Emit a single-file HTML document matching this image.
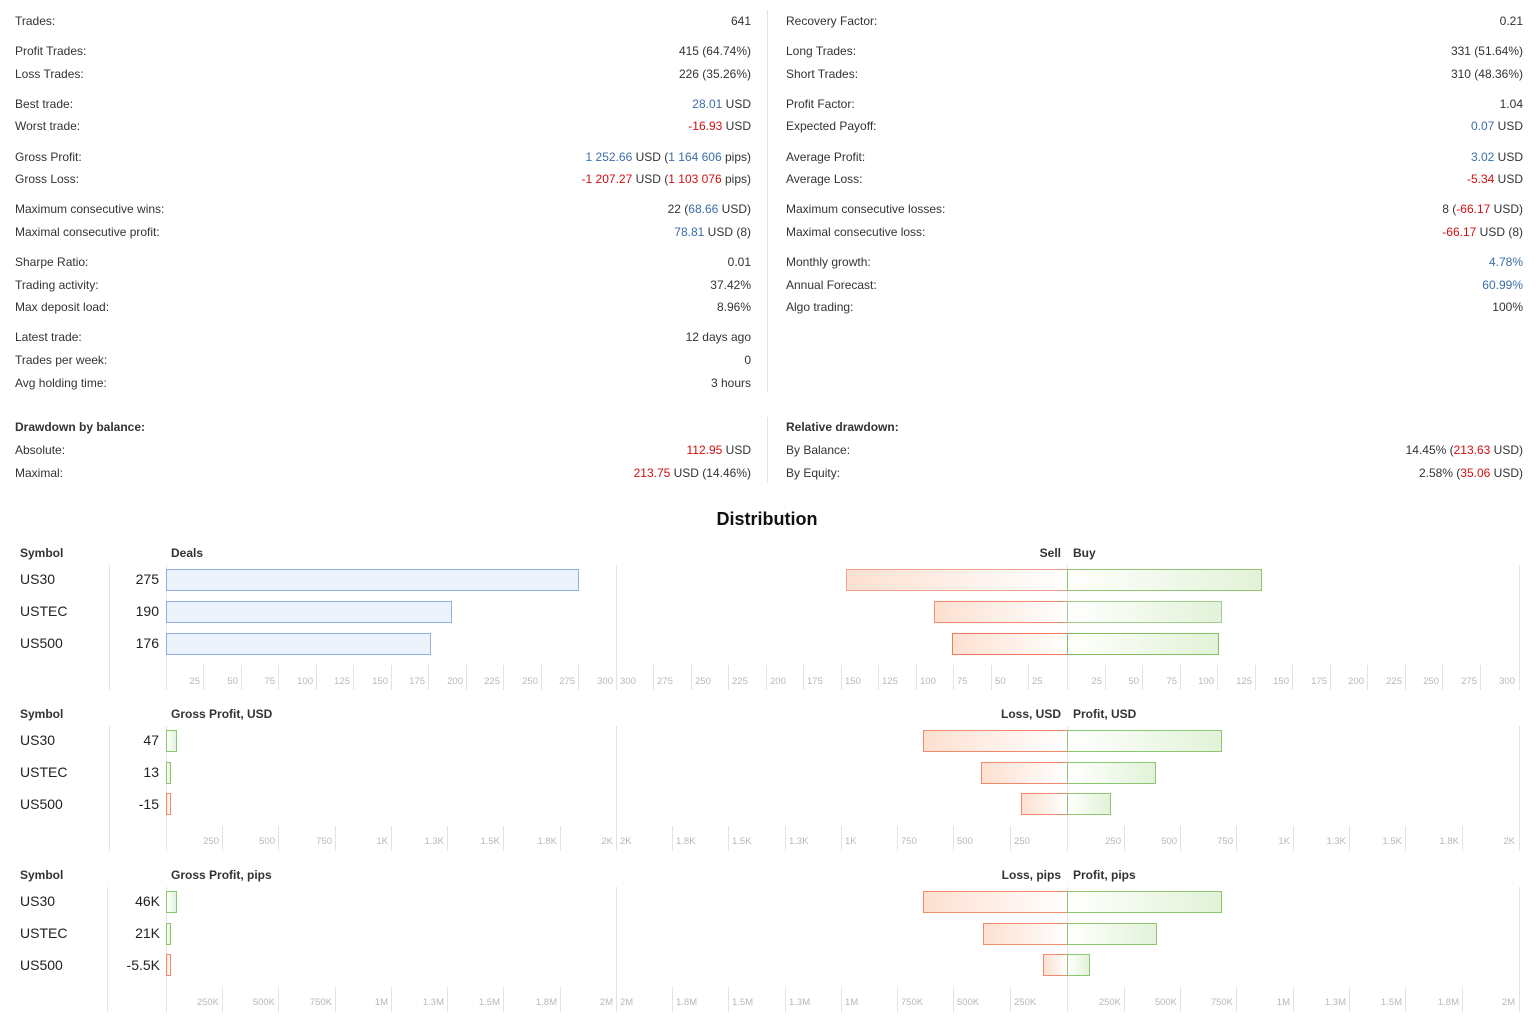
<!DOCTYPE html>
<html><head><meta charset="utf-8"><style>
body{margin:0;background:#fff;width:1536px;height:1020px;overflow:hidden}
svg{font-family:"Liberation Sans",sans-serif}
.l{font-size:12px;fill:#333}
.r{font-size:12px;fill:#333;text-anchor:end}
.b{fill:#3a6ea8}.d{fill:#d01010}
.h{font-size:12px;font-weight:bold;fill:#333}
.sy{font-size:14px;fill:#222}
.t{font-size:9.5px;fill:#b8b8b8}
.te{font-size:9.5px;fill:#b8b8b8;text-anchor:end}
.g{stroke:#e3e3e3;stroke-width:1}
</style></head><body>
<svg width="1536" height="1020" viewBox="0 0 1536 1020">
<defs>
<linearGradient id="gs" x1="0" x2="1"><stop offset="0" stop-color="#fde0d0"/><stop offset="1" stop-color="#fff"/></linearGradient>
<linearGradient id="gb" x1="0" x2="1"><stop offset="0" stop-color="#fff"/><stop offset="1" stop-color="#e2f2d8"/></linearGradient>
</defs>
<line x1="767.5" y1="10" x2="767.5" y2="392" class="g"/>
<line x1="767.5" y1="417" x2="767.5" y2="483" class="g"/>
<g>
<text x="15" y="25" class="l">Trades:</text><text x="751" y="25" class="r">641</text>
<text x="15" y="55" class="l">Profit Trades:</text><text x="751" y="55" class="r">415 (64.74%)</text>
<text x="15" y="78" class="l">Loss Trades:</text><text x="751" y="78" class="r">226 (35.26%)</text>
<text x="15" y="108" class="l">Best trade:</text><text x="751" y="108" class="r"><tspan class="b">28.01</tspan> USD</text>
<text x="15" y="130" class="l">Worst trade:</text><text x="751" y="130" class="r"><tspan class="d">-16.93</tspan> USD</text>
<text x="15" y="161" class="l">Gross Profit:</text><text x="751" y="161" class="r"><tspan class="b">1 252.66</tspan> USD (<tspan class="b">1 164 606</tspan> pips)</text>
<text x="15" y="183" class="l">Gross Loss:</text><text x="751" y="183" class="r"><tspan class="d">-1 207.27</tspan> USD (<tspan class="d">1 103 076</tspan> pips)</text>
<text x="15" y="213" class="l">Maximum consecutive wins:</text><text x="751" y="213" class="r">22 (<tspan class="b">68.66</tspan> USD)</text>
<text x="15" y="236" class="l">Maximal consecutive profit:</text><text x="751" y="236" class="r"><tspan class="b">78.81</tspan> USD (8)</text>
<text x="15" y="266" class="l">Sharpe Ratio:</text><text x="751" y="266" class="r">0.01</text>
<text x="15" y="289" class="l">Trading activity:</text><text x="751" y="289" class="r">37.42%</text>
<text x="15" y="311" class="l">Max deposit load:</text><text x="751" y="311" class="r">8.96%</text>
<text x="15" y="341" class="l">Latest trade:</text><text x="751" y="341" class="r">12 days ago</text>
<text x="15" y="364" class="l">Trades per week:</text><text x="751" y="364" class="r">0</text>
<text x="15" y="387" class="l">Avg holding time:</text><text x="751" y="387" class="r">3 hours</text>
<text x="15" y="431" class="h">Drawdown by balance:</text>
<text x="15" y="454" class="l">Absolute:</text><text x="751" y="454" class="r"><tspan class="d">112.95</tspan> USD</text>
<text x="15" y="477" class="l">Maximal:</text><text x="751" y="477" class="r"><tspan class="d">213.75</tspan> USD (14.46%)</text>

<text x="786" y="25" class="l">Recovery Factor:</text><text x="1523" y="25" class="r">0.21</text>
<text x="786" y="55" class="l">Long Trades:</text><text x="1523" y="55" class="r">331 (51.64%)</text>
<text x="786" y="78" class="l">Short Trades:</text><text x="1523" y="78" class="r">310 (48.36%)</text>
<text x="786" y="108" class="l">Profit Factor:</text><text x="1523" y="108" class="r">1.04</text>
<text x="786" y="130" class="l">Expected Payoff:</text><text x="1523" y="130" class="r"><tspan class="b">0.07</tspan> USD</text>
<text x="786" y="161" class="l">Average Profit:</text><text x="1523" y="161" class="r"><tspan class="b">3.02</tspan> USD</text>
<text x="786" y="183" class="l">Average Loss:</text><text x="1523" y="183" class="r"><tspan class="d">-5.34</tspan> USD</text>
<text x="786" y="213" class="l">Maximum consecutive losses:</text><text x="1523" y="213" class="r">8 (<tspan class="d">-66.17</tspan> USD)</text>
<text x="786" y="236" class="l">Maximal consecutive loss:</text><text x="1523" y="236" class="r"><tspan class="d">-66.17</tspan> USD (8)</text>
<text x="786" y="266" class="l">Monthly growth:</text><text x="1523" y="266" class="r b">4.78%</text>
<text x="786" y="289" class="l">Annual Forecast:</text><text x="1523" y="289" class="r b">60.99%</text>
<text x="786" y="311" class="l">Algo trading:</text><text x="1523" y="311" class="r">100%</text>
<text x="786" y="431" class="h">Relative drawdown:</text>
<text x="786" y="454" class="l">By Balance:</text><text x="1523" y="454" class="r">14.45% (<tspan class="d">213.63</tspan> USD)</text>
<text x="786" y="477" class="l">By Equity:</text><text x="1523" y="477" class="r">2.58% (<tspan class="d">35.06</tspan> USD)</text>
</g>
<text x="767" y="525" text-anchor="middle" style="font-size:18px;font-weight:bold;fill:#111">Distribution</text>

<!-- Section 1 -->
<g>
<text x="20" y="557" class="h">Symbol</text><text x="171" y="557" class="h">Deals</text>
<text x="1061" y="557" class="h" text-anchor="end">Sell</text><text x="1073" y="557" class="h">Buy</text>
<line x1="109.5" y1="565" x2="109.5" y2="690" class="g"/>
<line x1="166.5" y1="565" x2="166.5" y2="690" class="g"/>
<line x1="616.5" y1="565" x2="616.5" y2="690" class="g"/>
<line x1="1067.5" y1="565" x2="1067.5" y2="690" class="g"/>
<line x1="1519.5" y1="565" x2="1519.5" y2="690" class="g"/>
<text x="20" y="584" class="sy">US30</text><text x="159" y="584" class="sy" text-anchor="end">275</text>
<text x="20" y="616" class="sy">USTEC</text><text x="159" y="616" class="sy" text-anchor="end">190</text>
<text x="20" y="648" class="sy">US500</text><text x="159" y="648" class="sy" text-anchor="end">176</text>
<rect x="166.5" y="569.5" width="412" height="21" fill="#ecf2fa" stroke="#8fb1dd"/>
<rect x="166.5" y="601.5" width="285" height="21" fill="#ecf2fa" stroke="#8fb1dd"/>
<rect x="166.5" y="633.5" width="264" height="21" fill="#ecf2fa" stroke="#8fb1dd"/>
<rect x="846.5" y="569.5" width="221" height="21" fill="url(#gs)" stroke="#f0a08a"/>
<rect x="1067.5" y="569.5" width="194" height="21" fill="url(#gb)" stroke="#8cc66e"/>
<rect x="934.5" y="601.5" width="133" height="21" fill="url(#gs)" stroke="#f08a6a"/>
<rect x="1067.5" y="601.5" width="154" height="21" fill="url(#gb)" stroke="#a0d088"/>
<rect x="952.5" y="633.5" width="115" height="21" fill="url(#gs)" stroke="#f07a5a"/>
<rect x="1067.5" y="633.5" width="151" height="21" fill="url(#gb)" stroke="#80c060"/>
<g class="g">
<line x1="203.5" y1="665" x2="203.5" y2="690"/><line x1="241.5" y1="665" x2="241.5" y2="690"/><line x1="278.5" y1="665" x2="278.5" y2="690"/><line x1="316.5" y1="665" x2="316.5" y2="690"/><line x1="353.5" y1="665" x2="353.5" y2="690"/><line x1="391.5" y1="665" x2="391.5" y2="690"/><line x1="428.5" y1="665" x2="428.5" y2="690"/><line x1="466.5" y1="665" x2="466.5" y2="690"/><line x1="503.5" y1="665" x2="503.5" y2="690"/><line x1="541.5" y1="665" x2="541.5" y2="690"/><line x1="578.5" y1="665" x2="578.5" y2="690"/>
<line x1="653.5" y1="665" x2="653.5" y2="690"/><line x1="691.5" y1="665" x2="691.5" y2="690"/><line x1="728.5" y1="665" x2="728.5" y2="690"/><line x1="766.5" y1="665" x2="766.5" y2="690"/><line x1="803.5" y1="665" x2="803.5" y2="690"/><line x1="841.5" y1="665" x2="841.5" y2="690"/><line x1="878.5" y1="665" x2="878.5" y2="690"/><line x1="916.5" y1="665" x2="916.5" y2="690"/><line x1="953.5" y1="665" x2="953.5" y2="690"/><line x1="991.5" y1="665" x2="991.5" y2="690"/><line x1="1028.5" y1="665" x2="1028.5" y2="690"/>
<line x1="1105.5" y1="665" x2="1105.5" y2="690"/><line x1="1142.5" y1="665" x2="1142.5" y2="690"/><line x1="1180.5" y1="665" x2="1180.5" y2="690"/><line x1="1217.5" y1="665" x2="1217.5" y2="690"/><line x1="1255.5" y1="665" x2="1255.5" y2="690"/><line x1="1292.5" y1="665" x2="1292.5" y2="690"/><line x1="1330.5" y1="665" x2="1330.5" y2="690"/><line x1="1367.5" y1="665" x2="1367.5" y2="690"/><line x1="1405.5" y1="665" x2="1405.5" y2="690"/><line x1="1442.5" y1="665" x2="1442.5" y2="690"/><line x1="1480.5" y1="665" x2="1480.5" y2="690"/>
</g>
<g>
<text x="200" y="684" class="te">25</text><text x="238" y="684" class="te">50</text><text x="275" y="684" class="te">75</text><text x="313" y="684" class="te">100</text><text x="350" y="684" class="te">125</text><text x="388" y="684" class="te">150</text><text x="425" y="684" class="te">175</text><text x="463" y="684" class="te">200</text><text x="500" y="684" class="te">225</text><text x="538" y="684" class="te">250</text><text x="575" y="684" class="te">275</text><text x="613" y="684" class="te">300</text>
<text x="620" y="684" class="t">300</text><text x="657" y="684" class="t">275</text><text x="695" y="684" class="t">250</text><text x="732" y="684" class="t">225</text><text x="770" y="684" class="t">200</text><text x="807" y="684" class="t">175</text><text x="845" y="684" class="t">150</text><text x="882" y="684" class="t">125</text><text x="920" y="684" class="t">100</text><text x="957" y="684" class="t">75</text><text x="995" y="684" class="t">50</text><text x="1032" y="684" class="t">25</text>
<text x="1102" y="684" class="te">25</text><text x="1139" y="684" class="te">50</text><text x="1177" y="684" class="te">75</text><text x="1214" y="684" class="te">100</text><text x="1252" y="684" class="te">125</text><text x="1289" y="684" class="te">150</text><text x="1327" y="684" class="te">175</text><text x="1364" y="684" class="te">200</text><text x="1402" y="684" class="te">225</text><text x="1439" y="684" class="te">250</text><text x="1477" y="684" class="te">275</text><text x="1515" y="684" class="te">300</text>
</g>
</g>

<!-- Section 2 -->
<g>
<text x="20" y="718" class="h">Symbol</text><text x="171" y="718" class="h">Gross Profit, USD</text>
<text x="1061" y="718" class="h" text-anchor="end">Loss, USD</text><text x="1073" y="718" class="h">Profit, USD</text>
<line x1="109.5" y1="726" x2="109.5" y2="851" class="g"/>
<line x1="166.5" y1="726" x2="166.5" y2="851" class="g"/>
<line x1="616.5" y1="726" x2="616.5" y2="851" class="g"/>
<line x1="1067.5" y1="726" x2="1067.5" y2="851" class="g"/>
<line x1="1519.5" y1="726" x2="1519.5" y2="851" class="g"/>
<text x="20" y="745" class="sy">US30</text><text x="159" y="745" class="sy" text-anchor="end">47</text>
<text x="20" y="777" class="sy">USTEC</text><text x="159" y="777" class="sy" text-anchor="end">13</text>
<text x="20" y="809" class="sy">US500</text><text x="159" y="809" class="sy" text-anchor="end">-15</text>
<rect x="166.5" y="730.5" width="10" height="21" fill="url(#gb)" stroke="#8cc66e"/>
<rect x="166.5" y="762.5" width="4" height="21" fill="url(#gb)" stroke="#8cc66e"/>
<rect x="166.5" y="793.5" width="4" height="21" fill="url(#gs)" stroke="#f08a6a"/>
<rect x="923.5" y="730.5" width="144" height="21" fill="url(#gs)" stroke="#f08a6a"/>
<rect x="1067.5" y="730.5" width="154" height="21" fill="url(#gb)" stroke="#8cc66e"/>
<rect x="981.5" y="762.5" width="86" height="21" fill="url(#gs)" stroke="#f08a6a"/>
<rect x="1067.5" y="762.5" width="88" height="21" fill="url(#gb)" stroke="#8cc66e"/>
<rect x="1021.5" y="793.5" width="46" height="21" fill="url(#gs)" stroke="#f08a6a"/>
<rect x="1067.5" y="793.5" width="43" height="21" fill="url(#gb)" stroke="#8cc66e"/>
<g class="g">
<line x1="222.5" y1="826" x2="222.5" y2="851"/><line x1="278.5" y1="826" x2="278.5" y2="851"/><line x1="335.5" y1="826" x2="335.5" y2="851"/><line x1="391.5" y1="826" x2="391.5" y2="851"/><line x1="447.5" y1="826" x2="447.5" y2="851"/><line x1="503.5" y1="826" x2="503.5" y2="851"/><line x1="560.5" y1="826" x2="560.5" y2="851"/>
<line x1="672.5" y1="826" x2="672.5" y2="851"/><line x1="728.5" y1="826" x2="728.5" y2="851"/><line x1="785.5" y1="826" x2="785.5" y2="851"/><line x1="841.5" y1="826" x2="841.5" y2="851"/><line x1="897.5" y1="826" x2="897.5" y2="851"/><line x1="953.5" y1="826" x2="953.5" y2="851"/><line x1="1010.5" y1="826" x2="1010.5" y2="851"/>
<line x1="1124.5" y1="826" x2="1124.5" y2="851"/><line x1="1180.5" y1="826" x2="1180.5" y2="851"/><line x1="1236.5" y1="826" x2="1236.5" y2="851"/><line x1="1293.5" y1="826" x2="1293.5" y2="851"/><line x1="1349.5" y1="826" x2="1349.5" y2="851"/><line x1="1405.5" y1="826" x2="1405.5" y2="851"/><line x1="1462.5" y1="826" x2="1462.5" y2="851"/>
</g>
<g>
<text x="219" y="844" class="te">250</text><text x="275" y="844" class="te">500</text><text x="332" y="844" class="te">750</text><text x="388" y="844" class="te">1K</text><text x="444" y="844" class="te">1.3K</text><text x="500" y="844" class="te">1.5K</text><text x="557" y="844" class="te">1.8K</text><text x="613" y="844" class="te">2K</text>
<text x="620" y="844" class="t">2K</text><text x="676" y="844" class="t">1.8K</text><text x="732" y="844" class="t">1.5K</text><text x="789" y="844" class="t">1.3K</text><text x="845" y="844" class="t">1K</text><text x="901" y="844" class="t">750</text><text x="957" y="844" class="t">500</text><text x="1014" y="844" class="t">250</text>
<text x="1121" y="844" class="te">250</text><text x="1177" y="844" class="te">500</text><text x="1233" y="844" class="te">750</text><text x="1290" y="844" class="te">1K</text><text x="1346" y="844" class="te">1.3K</text><text x="1402" y="844" class="te">1.5K</text><text x="1459" y="844" class="te">1.8K</text><text x="1515" y="844" class="te">2K</text>
</g>
</g>

<!-- Section 3 -->
<g>
<text x="20" y="879" class="h">Symbol</text><text x="171" y="879" class="h">Gross Profit, pips</text>
<text x="1061" y="879" class="h" text-anchor="end">Loss, pips</text><text x="1073" y="879" class="h">Profit, pips</text>
<line x1="107.5" y1="887" x2="107.5" y2="1012" class="g"/>
<line x1="166.5" y1="887" x2="166.5" y2="1012" class="g"/>
<line x1="616.5" y1="887" x2="616.5" y2="1012" class="g"/>
<line x1="1067.5" y1="887" x2="1067.5" y2="1012" class="g"/>
<line x1="1519.5" y1="887" x2="1519.5" y2="1012" class="g"/>
<text x="20" y="906" class="sy">US30</text><text x="160" y="906" class="sy" text-anchor="end">46K</text>
<text x="20" y="938" class="sy">USTEC</text><text x="160" y="938" class="sy" text-anchor="end">21K</text>
<text x="20" y="970" class="sy">US500</text><text x="160" y="970" class="sy" text-anchor="end">-5.5K</text>
<rect x="166.5" y="891.5" width="10" height="21" fill="url(#gb)" stroke="#8cc66e"/>
<rect x="166.5" y="923.5" width="4" height="21" fill="url(#gb)" stroke="#8cc66e"/>
<rect x="166.5" y="954.5" width="4" height="21" fill="url(#gs)" stroke="#f08a6a"/>
<rect x="923.5" y="891.5" width="144" height="21" fill="url(#gs)" stroke="#f08a6a"/>
<rect x="1067.5" y="891.5" width="154" height="21" fill="url(#gb)" stroke="#8cc66e"/>
<rect x="983.5" y="923.5" width="84" height="21" fill="url(#gs)" stroke="#f08a6a"/>
<rect x="1067.5" y="923.5" width="89" height="21" fill="url(#gb)" stroke="#8cc66e"/>
<rect x="1043.5" y="954.5" width="24" height="21" fill="url(#gs)" stroke="#f08a6a"/>
<rect x="1067.5" y="954.5" width="22" height="21" fill="url(#gb)" stroke="#8cc66e"/>
<g class="g">
<line x1="222.5" y1="987" x2="222.5" y2="1012"/><line x1="278.5" y1="987" x2="278.5" y2="1012"/><line x1="335.5" y1="987" x2="335.5" y2="1012"/><line x1="391.5" y1="987" x2="391.5" y2="1012"/><line x1="447.5" y1="987" x2="447.5" y2="1012"/><line x1="503.5" y1="987" x2="503.5" y2="1012"/><line x1="560.5" y1="987" x2="560.5" y2="1012"/>
<line x1="672.5" y1="987" x2="672.5" y2="1012"/><line x1="728.5" y1="987" x2="728.5" y2="1012"/><line x1="785.5" y1="987" x2="785.5" y2="1012"/><line x1="841.5" y1="987" x2="841.5" y2="1012"/><line x1="897.5" y1="987" x2="897.5" y2="1012"/><line x1="953.5" y1="987" x2="953.5" y2="1012"/><line x1="1010.5" y1="987" x2="1010.5" y2="1012"/>
<line x1="1124.5" y1="987" x2="1124.5" y2="1012"/><line x1="1180.5" y1="987" x2="1180.5" y2="1012"/><line x1="1236.5" y1="987" x2="1236.5" y2="1012"/><line x1="1293.5" y1="987" x2="1293.5" y2="1012"/><line x1="1349.5" y1="987" x2="1349.5" y2="1012"/><line x1="1405.5" y1="987" x2="1405.5" y2="1012"/><line x1="1462.5" y1="987" x2="1462.5" y2="1012"/>
</g>
<g>
<text x="219" y="1005" class="te">250K</text><text x="275" y="1005" class="te">500K</text><text x="332" y="1005" class="te">750K</text><text x="388" y="1005" class="te">1M</text><text x="444" y="1005" class="te">1.3M</text><text x="500" y="1005" class="te">1.5M</text><text x="557" y="1005" class="te">1.8M</text><text x="613" y="1005" class="te">2M</text>
<text x="620" y="1005" class="t">2M</text><text x="676" y="1005" class="t">1.8M</text><text x="732" y="1005" class="t">1.5M</text><text x="789" y="1005" class="t">1.3M</text><text x="845" y="1005" class="t">1M</text><text x="901" y="1005" class="t">750K</text><text x="957" y="1005" class="t">500K</text><text x="1014" y="1005" class="t">250K</text>
<text x="1121" y="1005" class="te">250K</text><text x="1177" y="1005" class="te">500K</text><text x="1233" y="1005" class="te">750K</text><text x="1290" y="1005" class="te">1M</text><text x="1346" y="1005" class="te">1.3M</text><text x="1402" y="1005" class="te">1.5M</text><text x="1459" y="1005" class="te">1.8M</text><text x="1515" y="1005" class="te">2M</text>
</g>
</g>
</svg>
</body></html>
